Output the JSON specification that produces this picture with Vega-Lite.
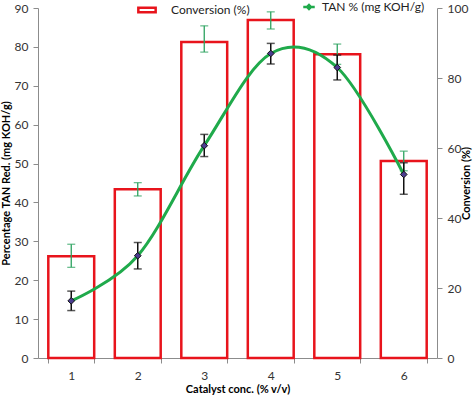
{
  "$schema": "https://vega.github.io/schema/vega-lite/v6.json",
  "autosize": {"type": "none"},
  "padding": {"left": 38, "top": 8, "right": 37, "bottom": 37},
  "width": 399,
  "height": 350,
  "background": "white",
  "config": {
    "view": {"stroke": null},
    "font": "Lato",
    "axis": {
      "labelFont": "Lato", "labelFontSize": 12, "labelColor": "#333333", "labelOverlap": false,
      "titleFont": "Lato", "titleFontSize": 11, "titleFontWeight": "bold", "titleColor": "#000000",
      "domainColor": "#8c8c8c", "tickColor": "#8c8c8c", "grid": false, "tickSize": 5
    },
    "legend": {"labelFont": "Lato", "labelFontSize": 12, "labelColor": "#222222"}
  },
  "data": {
    "values": [
      {"x": 1, "conv": 29.1, "conv_lo": 25.9, "conv_hi": 32.5, "tan": 14.7, "tan_lo": 12.2, "tan_hi": 17.2},
      {"x": 2, "conv": 48.2, "conv_lo": 46.3, "conv_hi": 50.1, "tan": 26.3, "tan_lo": 22.9, "tan_hi": 29.7},
      {"x": 3, "conv": 90.3, "conv_lo": 87.4, "conv_hi": 94.9, "tan": 54.6, "tan_lo": 51.8, "tan_hi": 57.5},
      {"x": 4, "conv": 96.6, "conv_lo": 94.0, "conv_hi": 98.9, "tan": 78.3, "tan_lo": 75.6, "tan_hi": 80.9},
      {"x": 5, "conv": 86.8, "conv_lo": 83.9, "conv_hi": 89.7, "tan": 74.7, "tan_lo": 71.5, "tan_hi": 77.9},
      {"x": 6, "conv": 56.3, "conv_lo": 53.5, "conv_hi": 59.1, "tan": 47.2, "tan_lo": 42.1, "tan_hi": 50.2}
    ]
  },
  "encoding": {
    "x": {
      "field": "x", "type": "ordinal",
      "scale": {"paddingInner": 0.31, "paddingOuter": 0.155},
      "axis": {"title": "Catalyst conc. (% v/v)", "labelAngle": 0, "tickBand": "extent", "labelPadding": 7, "titlePadding": 2}
    }
  },
  "layer": [
    {
      "layer": [
        {
          "mark": {"type": "bar", "fill": "white", "strokeWidth": 2.5},
          "encoding": {
            "y": {"field": "conv", "type": "quantitative", "scale": {"domain": [0, 100], "nice": false},
              "axis": {"orient": "right", "title": "Conversion (%)", "titleAngle": -90, "values": [0, 20, 40, 60, 80, 100], "labelOverlap": false, "labelPadding": 5, "titlePadding": 4}},
            "stroke": {"datum": "Conversion (%)", "scale": {"range": ["#e8141c"]},
              "legend": {"orient": "none", "legendX": 99, "legendY": -8, "title": null,
                "symbolType": "M-1,-0.25H1V0.25H-1Z", "symbolSize": 300, "symbolStrokeWidth": 2.5, "symbolFillColor": "white", "labelOffset": 14}}
          }
        },
        {
          "mark": {"type": "rule", "color": "#2ca25f", "strokeWidth": 1.3},
          "encoding": {"y": {"field": "conv_lo", "type": "quantitative", "axis": {"orient": "right", "title": "Conversion (%)", "titleAngle": -90, "values": [0, 20, 40, 60, 80, 100], "labelOverlap": false, "labelPadding": 5, "titlePadding": 4}}, "y2": {"field": "conv_hi"}}
        },
        {
          "mark": {"type": "tick", "color": "#2ca25f", "size": 8, "thickness": 1.3},
          "encoding": {"y": {"field": "conv_lo", "type": "quantitative", "axis": {"orient": "right", "title": "Conversion (%)", "titleAngle": -90, "values": [0, 20, 40, 60, 80, 100], "labelOverlap": false, "labelPadding": 5, "titlePadding": 4}}}
        },
        {
          "mark": {"type": "tick", "color": "#2ca25f", "size": 8, "thickness": 1.3},
          "encoding": {"y": {"field": "conv_hi", "type": "quantitative", "axis": {"orient": "right", "title": "Conversion (%)", "titleAngle": -90, "values": [0, 20, 40, 60, 80, 100], "labelOverlap": false, "labelPadding": 5, "titlePadding": 4}}}
        }
      ]
    },
    {
      "layer": [
        {
          "mark": {"type": "line", "interpolate": "cardinal", "tension": 0, "strokeWidth": 3},
          "encoding": {
            "y": {"field": "tan", "type": "quantitative", "scale": {"domain": [0, 90], "nice": false},
              "axis": {"orient": "left", "title": "Percentage TAN Red. (mg KOH/g)", "values": [0, 10, 20, 30, 40, 50, 60, 70, 80, 90], "labelOverlap": false, "labelPadding": 5, "titlePadding": 3}},
            "color": {"datum": "TAN % (mg KOH/g)", "scale": {"range": ["#1faa4b"]},
              "legend": {"orient": "none", "legendX": 264, "legendY": -8, "title": null,
                "symbolType": "M-1,0H1M-0.33,0L0,-0.33L0.33,0L0,0.33Z", "symbolSize": 132, "symbolStrokeWidth": 2.5, "symbolFillColor": "#4b3d8f", "labelOffset": 6}}
          }
        },
        {
          "mark": {"type": "rule", "color": "#111111", "strokeWidth": 1.5},
          "encoding": {"y": {"field": "tan_lo", "type": "quantitative", "axis": {"orient": "left", "title": "Percentage TAN Red. (mg KOH/g)", "values": [0, 10, 20, 30, 40, 50, 60, 70, 80, 90], "labelOverlap": false, "labelPadding": 5, "titlePadding": 3}}, "y2": {"field": "tan_hi"}}
        },
        {
          "mark": {"type": "tick", "color": "#111111", "size": 8, "thickness": 1.5},
          "encoding": {"y": {"field": "tan_lo", "type": "quantitative", "axis": {"orient": "left", "title": "Percentage TAN Red. (mg KOH/g)", "values": [0, 10, 20, 30, 40, 50, 60, 70, 80, 90], "labelOverlap": false, "labelPadding": 5, "titlePadding": 3}}}
        },
        {
          "mark": {"type": "tick", "color": "#111111", "size": 8, "thickness": 1.5},
          "encoding": {"y": {"field": "tan_hi", "type": "quantitative", "axis": {"orient": "left", "title": "Percentage TAN Red. (mg KOH/g)", "values": [0, 10, 20, 30, 40, 50, 60, 70, 80, 90], "labelOverlap": false, "labelPadding": 5, "titlePadding": 3}}}
        },
        {
          "mark": {"type": "point", "shape": "diamond", "filled": true, "fill": "#4b3d8f", "stroke": "#111111", "strokeWidth": 1, "size": 45, "opacity": 1},
          "encoding": {"y": {"field": "tan", "type": "quantitative", "axis": {"orient": "left", "title": "Percentage TAN Red. (mg KOH/g)", "values": [0, 10, 20, 30, 40, 50, 60, 70, 80, 90], "labelOverlap": false, "labelPadding": 5, "titlePadding": 3}}}
        }
      ]
    }
  ],
  "resolve": {"scale": {"y": "independent"}}
}
